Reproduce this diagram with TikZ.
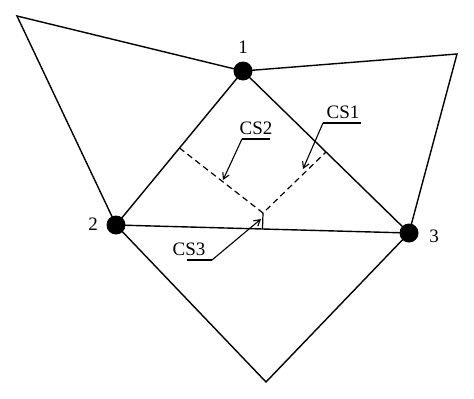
\documentclass[tikz,border=0pt]{standalone}
\usepackage{fontspec}
\setmainfont{Liberation Serif}
\usetikzlibrary{calc,arrows.meta}

\begin{document}
\begin{tikzpicture}[x=1pt,y=-1pt,line width=1.4pt,
  dot/.style={circle,fill,inner sep=0pt,minimum size=19pt},
  lbl/.style={font=\fontsize{19}{21}\selectfont,inner sep=0pt},
  lead/.style={line width=1.1pt,-{Straight Barb[length=6pt,width=7pt]}}]
\useasboundingbox (0,0) rectangle (474,399);
\node[dot] (n1) at (243,71) {}; \node[dot] (n2) at (116,225) {}; \node[dot] (n3) at (409,233) {};
\coordinate (P) at (17,16); \coordinate (Q) at (457,54); \coordinate (R) at (266,382);
\coordinate (O) at (263,213);
\coordinate (M12) at ($(n1)!0.5!(n2)$); \coordinate (M13) at ($(n1)!0.5!(n3)$);
\coordinate (M23) at ($(n2)!0.5!(n3)$);
\draw (P)--(n1.center)--(Q)--(n3.center)--(R)--(n2.center)--cycle;
\draw (n1.center)--(n2.center)--(n3.center)--cycle;
\draw[line width=1.2pt,dash pattern=on 6pt off 4pt] (M12)--(O)--(M13);
\draw[line width=1.2pt] (O)--(M23);
\foreach \p/\t/\x/\y in {l1/1/243/47,l2/2/93/224,l3/3/434/236}
  \node[lbl] (\p) at (\x,\y) {\t};
\node[lbl] (cs1) at (343,112) {CS1}; \node[lbl] (cs2) at (256,128) {CS2};
\node[lbl] (cs3) at (189,249) {CS3};
\coordinate (u1) at (323,123); \coordinate (u2) at (242,139); \coordinate (u3) at (212,260);
\draw[line width=1.1pt] (u1)--(361,123); \draw[line width=1.1pt] (u2)--(270,139);
\draw[line width=1.1pt] (187,260)--(u3);
\draw[lead] (u1)--(303,169);
\draw[lead] (u2)--(223,180);
\draw[lead] (u3)--(261,219);
\end{tikzpicture}
\end{document}
